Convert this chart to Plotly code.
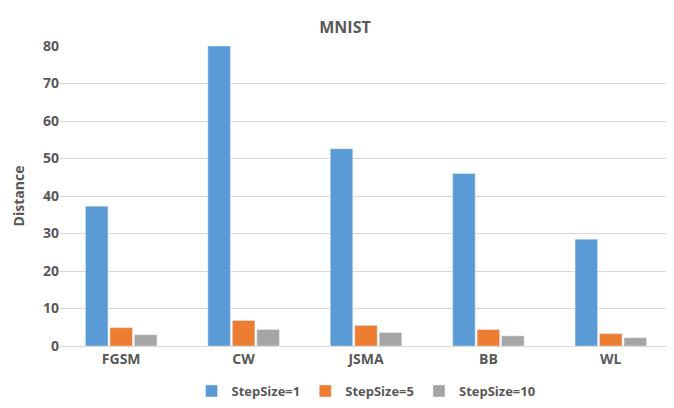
import plotly.graph_objects as go

categories = ["FGSM", "CW", "JSMA", "BB", "WL"]
step1 = [37.3, 80.0, 52.6, 46.0, 28.5]
step5 = [4.9, 6.8, 5.5, 4.4, 3.3]
step10 = [3.0, 4.4, 3.6, 2.7, 2.2]

fig = go.Figure()
for name, vals, col in [("<b>StepSize=1</b>", step1, "#5B9BD5"), ("<b>StepSize=5</b>", step5, "#ED7D31"), ("<b>StepSize=10</b>", step10, "#A5A5A5")]:
    fig.add_bar(x=categories, y=vals, name=name, marker_color=col)

font = dict(family="Open Sans", size=14, color="#595959")
fig.update_layout(
    width=674, height=408, plot_bgcolor="white", paper_bgcolor="white",
    title=dict(text="<b>MNIST</b>", x=0.5, y=0.965, xanchor="center", font=dict(family="Open Sans", size=16, color="#595959")),
    margin=dict(l=50, r=10, t=46, b=70),
    bargap=0.4, bargroupgap=0.08,
    font=font,
    legend=dict(orientation="h", x=0.5, xanchor="center", y=-0.1, yanchor="top", font=dict(family="Open Sans", size=13, color="#595959")),
    yaxis=dict(range=[0, 80], dtick=10, gridcolor="#D9D9D9", showline=False, zeroline=False,
               title=dict(text="<b>Distance</b>", font=dict(size=14)), tickfont=dict(size=14, weight="bold")),
    xaxis=dict(showline=True, linecolor="#D9D9D9", tickfont=dict(size=14, weight="bold")),
)
fig.update_layout(margin=dict(t=38, b=70))
fig.write_html("out.html")
